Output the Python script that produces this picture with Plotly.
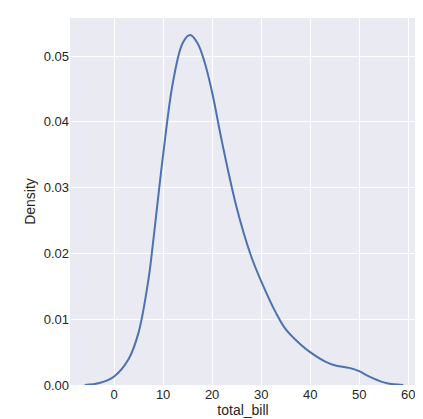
import plotly.graph_objs as go

# density curve
total_bill = [-6, -3, 0, 3, 5, 7, 8, 10, 12, 14, 15.5, 17, 18.5, 20, 22, 25, 28, 30, 33, 35, 38, 40, 43, 45, 48, 50, 52, 55, 57, 59]
density = [0.0, 0.0003, 0.0013, 0.004, 0.008, 0.016, 0.022, 0.035, 0.046, 0.052, 0.0532, 0.052, 0.049, 0.0445, 0.037, 0.027, 0.0195, 0.0158, 0.011, 0.0085, 0.0062, 0.005, 0.0036, 0.003, 0.0026, 0.0021, 0.0013, 0.0004, 0.0001, 0.0]

x_ticks = [0, 10, 20, 30, 40, 50, 60]
y_ticks = [0.0, 0.01, 0.02, 0.03, 0.04, 0.05]
y_labels = ["0.00", "0.01", "0.02", "0.03", "0.04", "0.05"]

fig = go.Figure()
fig.add_trace(go.Scatter(x=total_bill, y=density, mode="lines",
                         line=dict(color="#4C72B0", width=2, shape="spline", smoothing=1.0)))

fig.update_layout(width=423, height=419, margin=dict(l=62, r=15, t=10, b=42, autoexpand=False),
                  paper_bgcolor="white", plot_bgcolor="#EAEAF2", showlegend=False,
                  font=dict(family="Arial, Liberation Sans", size=13, color="#262626"))
fig.update_xaxes(range=[-9, 61.6], tickvals=x_ticks, gridcolor="white", gridwidth=1.2,
                 zeroline=False, showline=False, ticks="", automargin=False,
                 title=dict(text="total_bill", font=dict(size=14), standoff=2))
fig.update_yaxes(range=[0, 0.0558], tickvals=y_ticks, ticktext=y_labels, gridcolor="white",
                 gridwidth=1.2, zeroline=False, showline=False, ticks="", automargin=False,
                 title=dict(text="Density", font=dict(size=14), standoff=4))

fig.write_html("out.html")
